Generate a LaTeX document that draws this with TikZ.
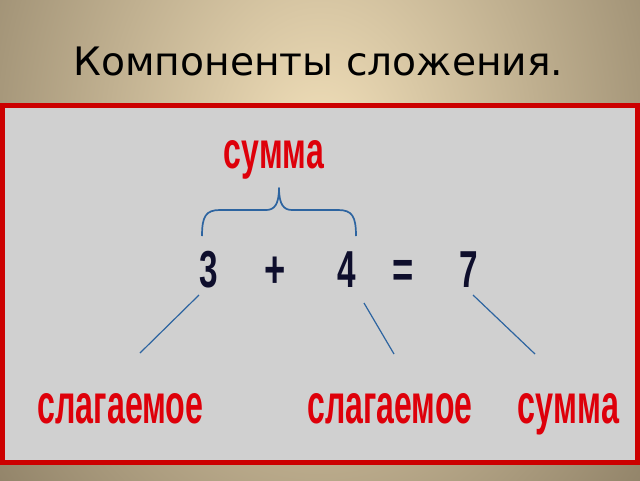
\documentclass[tikz,border=0pt]{standalone}
\usepackage{fontspec}
\setmainfont{Liberation Sans}
\newfontfamily\titlefont{DejaVu Sans}
\usepackage{graphicx}
\definecolor{bgin}{RGB}{242,224,186}
\definecolor{bgout}{RGB}{142,128,102}
\definecolor{boxred}{RGB}{204,0,0}
\definecolor{boxgray}{RGB}{208,208,208}
\definecolor{labred}{RGB}{222,0,10}
\definecolor{linkblue}{RGB}{45,100,160}
\definecolor{digit}{RGB}{14,14,44}
\tikzset{
  lab/.style={anchor=base, inner sep=0pt, text=labred, font=\bfseries},
  dig/.style={anchor=base, inner sep=0pt, text=digit},
  link/.style={draw=linkblue, line width=1.2pt},
  bracestyle/.style={draw=linkblue, line width=1.7pt, line join=round}
}
\begin{document}
\begin{tikzpicture}[x=1pt,y=-1pt]
\useasboundingbox (0,0) rectangle (640,480);
\begin{scope}
\clip (0,0) rectangle (640,480);
\shade[inner color=bgin, outer color=bgout] (320,150) ellipse [x radius=430, y radius=560];
\end{scope}
\node[anchor=base, inner sep=0pt, font=\titlefont\fontsize{39.2}{42}\selectfont] (title) at (318.5,75) {Компоненты сложения.};
\draw[fill=boxgray, draw=boxred, line width=5pt] (2.5,105.5) rectangle (637.5,462.5);
% equation
\node[dig] (d3) at (208.5,287) {\scalebox{0.64}[1]{\fontsize{52}{52}\selectfont\bfseries 3}};
\node[dig] (plus) at (275,287) {\scalebox{0.7}[1]{\fontsize{52}{52}\selectfont\bfseries +}};
\node[dig] (d4) at (346.5,287) {\scalebox{0.64}[1]{\fontsize{52}{52}\selectfont\bfseries 4}};
\node[dig] (eq) at (403.5,287) {\scalebox{0.7}[1]{\fontsize{52}{52}\selectfont\bfseries =}};
\node[dig] (d7) at (468.5,287) {\scalebox{0.64}[1]{\fontsize{52}{52}\selectfont\bfseries 7}};
% labels
\node[lab] (sumtop) at (274,168) {\resizebox{100pt}{28pt}{сумма}};
\node[lab] (add1) at (120.5,423) {\resizebox{166pt}{30pt}{слагаемое}};
\node[lab] (add2) at (390,423) {\resizebox{165pt}{30pt}{слагаемое}};
\node[lab] (sumbot) at (568.5,423) {\resizebox{101pt}{30pt}{сумма}};
% brace
\coordinate (bl) at (202,236);
\coordinate (bt) at (279,188);
\coordinate (br) at (356,236);
\draw[bracestyle] (bl) .. controls (202,216) and (206,210) .. (220,210) -- (266,210)
  .. controls (274,210) and (279,205) .. (bt)
  .. controls (279,205) and (284,210) .. (292,210) -- (338,210)
  .. controls (352,210) and (356,216) .. (br);
% connectors
\coordinate (a1) at (199,295);
\coordinate (a2) at (140,353);
\coordinate (b1) at (364,303);
\coordinate (b2) at (394,354);
\coordinate (c1) at (473,295);
\coordinate (c2) at (535,354);
\draw[link] (a1) -- (a2);
\draw[link] (b1) -- (b2);
\draw[link] (c1) -- (c2);
\end{tikzpicture}
\end{document}
